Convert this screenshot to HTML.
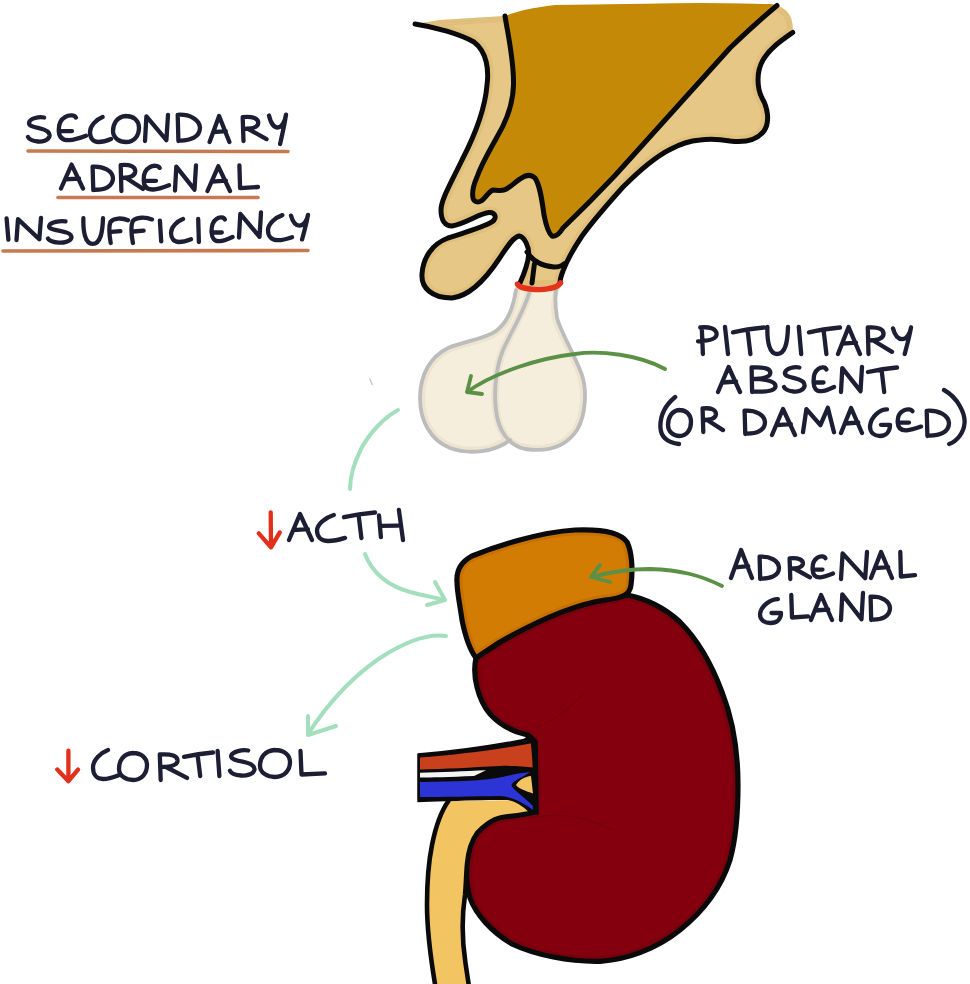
<!DOCTYPE html>
<html><head><meta charset="utf-8"><style>
html,body{margin:0;padding:0;background:#fff;width:970px;height:984px;overflow:hidden}
svg{display:block}
</style></head><body>
<svg width="970" height="984" viewBox="0 0 970 984" fill="none" stroke-linecap="round" stroke-linejoin="round">
<!-- underlines -->
<g stroke="#c67a52" stroke-width="3.6">
<path d="M28 151 L288 151.5"/>
<path d="M58 197.5 L258 197.5"/>
<path d="M3 251 L308 250.5"/>
</g>

<!-- hypothalamus tan -->
<clipPath id="ct"><path d="M415 24 L440 20 L505 16 L555 6 L700 3 L770 4 C780 5 788 10 791 18 C793 24 793 30 792.7 32.5 C782 40 770 48 763 60 C756 72 757 88 762 98 C768 108 770 122 764 131 C757 140 745 143 730 141 C718 139 708 139 700 140 C688 141 680 144 670 149.5 C655 157 640 170 623 187 C605 207 590 225 582 236 C574 248 567 260 563 271 C561 276 560 280 560 286 L519 286 L520 283 C524 274 528 265 528.8 254 C528.8 247 525 237 519 236 C513 237 507 247 499 259 C485 280 470 296 452 298 C432 298 421 288 422 274 C423 258 432 244 448 237 C462 233.5 479 228.5 490 223 C498 219 496 212 489 212.5 C480 213 465 224 452 226 C445 226 441 220 441 210 C441 200 450 185 462 160 C475 135 485 110 487 85 C489 70 487 52 474 42 C460 34 435 27 415 24 Z"/></clipPath>
<path fill="#e6c786" d="M415 24 L440 20 L505 16 L555 6 L700 3 L770 4 C780 5 788 10 791 18 C793 24 793 30 792.7 32.5 C782 40 770 48 763 60 C756 72 757 88 762 98 C768 108 770 122 764 131 C757 140 745 143 730 141 C718 139 708 139 700 140 C688 141 680 144 670 149.5 C655 157 640 170 623 187 C605 207 590 225 582 236 C574 248 567 260 563 271 C561 276 560 280 560 286 L519 286 L520 283 C524 274 528 265 528.8 254 C528.8 247 525 237 519 236 C513 237 507 247 499 259 C485 280 470 296 452 298 C432 298 421 288 422 274 C423 258 432 244 448 237 C462 233.5 479 228.5 490 223 C498 219 496 212 489 212.5 C480 213 465 224 452 226 C445 226 441 220 441 210 C441 200 450 185 462 160 C475 135 485 110 487 85 C489 70 487 52 474 42 C460 34 435 27 415 24 Z"/>
<path clip-path="url(#ct)" fill="none" stroke="#d9b56e" stroke-width="12" opacity="0.45" d="M415 24 L440 20 L505 16 L555 6 L700 3 L770 4 C780 5 788 10 791 18 C793 24 793 30 792.7 32.5 C782 40 770 48 763 60 C756 72 757 88 762 98 C768 108 770 122 764 131 C757 140 745 143 730 141 C718 139 708 139 700 140 C688 141 680 144 670 149.5 C655 157 640 170 623 187 C605 207 590 225 582 236 C574 248 567 260 563 271 C561 276 560 280 560 286 L519 286 L520 283 C524 274 528 265 528.8 254 C528.8 247 525 237 519 236 C513 237 507 247 499 259 C485 280 470 296 452 298 C432 298 421 288 422 274 C423 258 432 244 448 237 C462 233.5 479 228.5 490 223 C498 219 496 212 489 212.5 C480 213 465 224 452 226 C445 226 441 220 441 210 C441 200 450 185 462 160 C475 135 485 110 487 85 C489 70 487 52 474 42 C460 34 435 27 415 24 Z"/>
<path fill="#c48906" d="M505 16 C508 35 514 60 513.5 85 C513 105 506 122 497 137 C490 150 482 163 477 177 C473 186 472 193 473 198 C474 202 478 203 481 201 C485 199 489 191 493 190 C496 190 500 191 504 190 C510 188 515 182 520 179 C524 176 530 173 535 178 C540 185 542 200 544 215 C546 225 548 233 552 236 C556 237 560 233 563 228 Q590 202 615 175.5 L730 48 Q755 24 777 5.5 L770 4 L700 3 L555 5 C530 8 515 12 505 16 Z"/>
<g stroke="#0a0a0a" stroke-width="5">
<path d="M415 24 C435 27 460 34 474 42 C487 52 489 70 487 85 C485 110 475 135 462 160 C450 185 441 200 441 210 C441 220 445 226 452 226 C465 224 480 213 489 212.5 C496 212 498 219 490 223 C479 228.5 462 233.5 448 238 C432 244 423 258 422 274 C421 288 432 298 452 298 C470 296 485 280 499 259 C507 247 513 237 519 236 C525 237 528.8 247 528.8 254 C528 265 524 274 520 283"/>
<path d="M792.7 32.5 C782 40 770 48 763 60 C756 72 757 88 762 98 C768 108 770 122 764 131 C757 140 745 143 730 141 C718 139 708 139 700 140 C688 141 680 144 670 149.5 C655 157 640 170 623 187 C605 207 590 225 582 236 C574 248 567 260 563 271 C561 276 560 280 560 283"/>
<path d="M505 16 C508 35 514 60 513.5 85 C513 105 506 122 497 137 C490 150 482 163 477 177 C473 186 472 193 473 198 C474 202 478 203 481 201 C485 199 489 191 493 190 C496 190 500 191 504 190 C510 188 515 182 520 179 C524 176 530 173 535 178 C540 185 542 200 544 215 C546 225 548 233 552 236 C556 237 560 233 563 228 Q590 202 615 175.5 L730 48 Q755 24 777 5.5"/>
<path d="M527 252 C532 260 540 266 554 267 C558 267 562 266 564 264"/>
<path d="M534.4 264 L532 283"/>
</g>


<!-- pituitary -->
<clipPath id="cp"><path d="M516 286 L561 286 C556 297 555 305 557 318 C562 335 575 355 582 375 C587 390 586 415 577 430 C565 448 545 452 525 449 C515 448 510 444 507 441 C495 452 470 455 450 448 C430 440 420 420 420 398 C420 375 430 357 448 348 C465 341 485 339 496 331 C508 322 513 308 516 286 Z"/></clipPath>
<path fill="#f5eedd" d="M516 286 L561 286 C556 297 555 305 557 318 C562 335 575 355 582 375 C587 390 586 415 577 430 C565 448 545 452 525 449 C515 448 510 444 507 441 C495 452 470 455 450 448 C430 440 420 420 420 398 C420 375 430 357 448 348 C465 341 485 339 496 331 C508 322 513 308 516 286 Z"/>
<path clip-path="url(#cp)" fill="none" stroke="#ebe1cc" stroke-width="10" opacity="0.8" d="M516 286 L561 286 C556 297 555 305 557 318 C562 335 575 355 582 375 C587 390 586 415 577 430 C565 448 545 452 525 449 C515 448 510 444 507 441 C495 452 470 455 450 448 C430 440 420 420 420 398 C420 375 430 357 448 348 C465 341 485 339 496 331 C508 322 513 308 516 286 Z"/>
<path clip-path="url(#cp)" fill="none" stroke="#ebe1cc" stroke-width="8" opacity="0.8" d="M530 290 C525 310 512 330 503 350 C495 370 494 395 496 410 C498 430 508 445 525 449"/>
<g fill="none" stroke="#bcbcbc" stroke-width="3.8">
<path d="M516 290 C513 308 508 322 496 331 C485 339 465 341 448 348 C430 357 420 375 420 398 C420 420 430 440 450 448 C470 455 495 452 510 440"/>
<path d="M530 290 C525 310 512 330 503 350 C495 370 494 395 496 410 C498 430 508 445 525 449 C545 452 565 448 577 430 C586 415 587 390 582 375 C575 355 562 335 557 318 C555 305 555 297 556 290"/>
</g>
<path d="M517.5 284 C519 288 530 289.5 540 289.5 C550 289 557 288 560.5 283" stroke="#e5321b" stroke-width="5.5"/>
<g stroke="#a3dfbd" stroke-width="4">
<path d="M398 410 C385 417 370 432 361 449 C354 463 350 478 350 489"/>
<path d="M365 554 C372 572 385 585 410 592 C425 596 437 598 445 600 M435 582 L445 600 L427 605"/>
<path d="M446 636 C425 633 400 645 380 658 C355 675 330 700 308 734 M308 716 L308 735 L336 726"/>
</g>
<path d="M369.8 379 L372.3 384.5" stroke="#c4c4c4" stroke-width="1.3"/>
<!-- red arrows -->
<g stroke="#e2301b" stroke-width="4.3">
<path d="M270.7 512.3 L271 547.3 M258.8 533.3 L271 547.3 L279.8 532.4"/>
<path d="M68.4 750.7 L68.4 781.2 M57.3 769.6 L68.4 781.2 L78 769.6"/>
</g>

<!-- kidney -->
<clipPath id="ck"><path d="M476 658 C472 675 478 700 490 714 C500 725 512 731 524 734 C529 735 532 737 533 741 C535 760 536 790 535 812 C528 814 510 816 501.6 817.2 C492 819 482 827 477 833 C472 840 468 852 467 864 C466 875 467 888 470 898 C476 915 492 932 512 944 C535 955 570 962 600 961.3 C625 960 655 950 680 930 C705 910 722 885 730 860 C737 835 738 810 738 785 C738 755 733 720 722 692 C712 665 698 640 680 622 C665 608 645 598 627 595 L605 600 C570 605 530 625 500 642 C488 650 480 655 476 658 Z"/></clipPath>
<path fill="#85000f" d="M476 658 C472 675 478 700 490 714 C500 725 512 731 524 734 C529 735 532 737 533 741 C535 760 536 790 535 812 C528 814 510 816 501.6 817.2 C492 819 482 827 477 833 C472 840 468 852 467 864 C466 875 467 888 470 898 C476 915 492 932 512 944 C535 955 570 962 600 961.3 C625 960 655 950 680 930 C705 910 722 885 730 860 C737 835 738 810 738 785 C738 755 733 720 722 692 C712 665 698 640 680 622 C665 608 645 598 627 595 L605 600 C570 605 530 625 500 642 C488 650 480 655 476 658 Z"/>
<path clip-path="url(#ck)" fill="none" stroke="#74000d" stroke-width="11" opacity="0.8" d="M476 658 C472 675 478 700 490 714 C500 725 512 731 524 734 C529 735 532 737 533 741 C535 760 536 790 535 812 C528 814 510 816 501.6 817.2 C492 819 482 827 477 833 C472 840 468 852 467 864 C466 875 467 888 470 898 C476 915 492 932 512 944 C535 955 570 962 600 961.3 C625 960 655 950 680 930 C705 910 722 885 730 860 C737 835 738 810 738 785 C738 755 733 720 722 692 C712 665 698 640 680 622 C665 608 645 598 627 595 L605 600 C570 605 530 625 500 642 C488 650 480 655 476 658 Z"/>
<path clip-path="url(#ck)" fill="none" stroke="#85000f" stroke-width="20" opacity="0.0" d="M476 658 C472 675 478 700 490 714 C500 725 512 731 524 734 C529 735 532 737 533 741 C535 760 536 790 535 812 C528 814 510 816 501.6 817.2 C492 819 482 827 477 833 C472 840 468 852 467 864 C466 875 467 888 470 898 C476 915 492 932 512 944 C535 955 570 962 600 961.3 C625 960 655 950 680 930 C705 910 722 885 730 860 C737 835 738 810 738 785 C738 755 733 720 722 692 C712 665 698 640 680 622 C665 608 645 598 627 595 L605 600 C570 605 530 625 500 642 C488 650 480 655 476 658 Z"/>
<path fill="none" stroke="#0a0a0a" stroke-width="5.2" d="M476 658 C472 675 478 700 490 714 C500 725 512 731 524 734 C529 735 532 737 533 741 C535 760 536 790 535 812 C528 814 510 816 501.6 817.2 C492 819 482 827 477 833 C472 840 468 852 467 864 C466 875 467 888 470 898 C476 915 492 932 512 944 C535 955 570 962 600 961.3 C625 960 655 950 680 930 C705 910 722 885 730 860 C737 835 738 810 738 785 C738 755 733 720 722 692 C712 665 698 640 680 622 C665 608 645 598 627 595 L605 600 C570 605 530 625 500 642 C488 650 480 655 476 658 Z"/>
<!-- adrenal -->
<clipPath id="ca"><path d="M457 582 C456 570 461 562 472 556 C497 546 540 532 575 530 C600 529 620 532 627 542 C632 552 633 570 631 585 C630 595 622 598 605 600 C570 605 530 625 500 642 C488 650 480 655 476 658 C470 650 465 635 462 620 C460 605 457 592 457 582 Z"/></clipPath>
<path fill="#d37c03" d="M457 582 C456 570 461 562 472 556 C497 546 540 532 575 530 C600 529 620 532 627 542 C632 552 633 570 631 585 C630 595 622 598 605 600 C570 605 530 625 500 642 C488 650 480 655 476 658 C470 650 465 635 462 620 C460 605 457 592 457 582 Z"/>
<path clip-path="url(#ca)" fill="none" stroke="#c46f00" stroke-width="11" opacity="0.8" d="M457 582 C456 570 461 562 472 556 C497 546 540 532 575 530 C600 529 620 532 627 542 C632 552 633 570 631 585 C630 595 622 598 605 600 C570 605 530 625 500 642 C488 650 480 655 476 658 C470 650 465 635 462 620 C460 605 457 592 457 582 Z"/>
<path fill="none" stroke="#0a0a0a" stroke-width="5.2" d="M457 582 C456 570 461 562 472 556 C497 546 540 532 575 530 C600 529 620 532 627 542 C632 552 633 570 631 585 C630 595 622 598 605 600 C570 605 530 625 500 642 C488 650 480 655 476 658 C470 650 465 635 462 620 C460 605 457 592 457 582 Z"/>
<!-- ureter -->
<path fill="#f2c462" d="M448.4 801 C442 810 436 825 432 845 C428 865 427 885 427 905 C427 930 430 955 436 990 L470 990 L465.4 962.5 C462 940 462 915 465 895 C466 885 466 876 467 864 C468 852 472 840 477 833 C482 827 492 819 501.6 817.2 C505 816.5 512 816 520 814.7 L535 812 L520 800 Z"/>
<g stroke="#0a0a0a" stroke-width="4.6">
<path d="M448.4 801 C442 810 436 825 432 845 C428 865 427 885 427 905 C427 930 430 955 436 990"/>
<path d="M535 812 C528 814 512 816 501.6 817.2 C492 819 482 827 477 833 C472 840 468 852 467 864 C466 876 466 885 465 895 C462 915 462 940 465.4 962.5 L469.5 990"/>
</g>
<!-- vessels -->
<path fill="#0a0a0a" stroke="#0a0a0a" stroke-width="1.5" d="M418 754 C450 751.5 490 746 524 739.5 L530 735 L537 741 L538 814 L531 813 C524 806 515 799.5 505 799 C480 799 450 800.5 418 801.5 Z"/>
<path fill="#c8401c" d="M420 757.5 C450 755.5 490 750.5 522 745 L533 743 L533 767.5 C525 766.5 510 765.5 500 766 C470 767.5 445 769 420 769.5 Z"/>
<path fill="#f4f4f4" d="M420 772.8 C440 772.3 465 771.3 486 770.3 L474 776 C450 777 430 777.5 420 777.5 Z"/>
<path fill="#2c34d6" d="M420 782 C450 781.5 480 781 497 778 C508 776 518 773 530 772 L524 776 C518 779 511.5 782 511.5 786 C514 790 524 797 533 806 L533 810 C524 803 512 796.5 500 796 C470 796.5 445 797 420 797 Z"/>
<path fill="#f2c462" d="M516 785 C519 780 525 776.5 531 776 L533 793.5 C526 791 519 789 516 785 Z"/>
<path d="M533 741 C535 760 536 790 535 812" stroke="#0a0a0a" stroke-width="4.6"/>
<path fill="none" stroke="#6a000a" stroke-width="1.5" opacity="0.6" d="M538 817 C557 813 585 816 612 830"/>
<path fill="none" stroke="#6a000a" stroke-width="1.5" opacity="0.6" d="M538 727 C550 722 570 710 583 694"/>

<!-- green arrows -->
<g stroke="#5b9147" stroke-width="3.8">
<path d="M665 369 C640 355 600 350 575 354 C540 358 495 372 467 392 M471 376 L467 392 L482 394"/>
<path d="M722 586 C700 575 680 570 650 569 C630 569 610 572 592 577 M600 565 L591 577 L610 582"/>
</g>

<!-- text -->
<g stroke-linecap="round" stroke-linejoin="round" fill="none">
<path d="M44.1 117.5C39.0 116.5 30.2 118.2 29.1 122.5C28.4 125.8 33.5 127.0 39.0 128.2C46.7 130.0 50.0 132.0 49.6 135.8C48.9 140.8 41.2 142.0 37.9 141.5C33.5 141.0 29.1 139.5 28.0 137.0 M75.9 117.6C74.8 115.0 69.2 114.5 65.0 117.1C59.4 120.2 58.6 126.7 58.8 131.1L72.0 131.1 M58.8 131.1C59.1 137.1 62.2 140.5 69.2 140.2C74.8 140.0 80.4 137.9 86.0 135.8 M102.6 117.0C96.3 119.5 90.0 125.8 90.0 132.0C90.0 138.2 93.2 142.0 98.4 142.0C102.6 142.0 106.8 140.8 111.0 139.0 M126.0 116.0C116.9 116.5 113.0 123.8 113.0 131.1C113.0 138.1 119.5 142.0 126.0 142.0C134.3 142.0 139.0 135.5 139.0 127.7C139.0 120.7 133.8 116.0 126.0 116.0 M145.0 141.0L146.4 116.3L166.4 140.2L168.0 115.0 M177.7 114.8L178.4 141.0 M177.7 114.8C189.7 114.0 199.3 119.4 200.0 127.5C200.0 136.9 190.8 141.0 178.4 140.5 M209.6 142.0L219.1 116.0L229.4 142.0 M213.6 132.1L225.8 131.1 M242.7 117.7L243.5 141.0 M242.7 117.2C253.0 116.2 258.7 118.6 258.2 123.3C257.7 127.6 250.6 128.8 243.5 128.8 M248.1 128.8L266.5 139.1 M269.0 115.5C270.7 123.0 274.1 127.5 277.5 127.5C281.8 127.5 285.1 121.5 286.0 114.6 M286.0 114.6C284.3 126.0 281.8 136.5 280.1 144.0" stroke="#1c1e33" stroke-width="4.3"/>
<path d="M61.0 188.5L71.6 164.6L83.0 188.5 M65.4 179.4L79.0 178.5 M92.6 166.7L93.3 190.2 M92.6 166.7C103.5 166.0 112.4 170.8 113.0 178.1C113.0 186.6 104.6 190.2 93.3 189.7 M120.7 165.7L121.4 191.0 M120.7 165.1C130.3 164.1 135.6 166.7 135.2 171.7C134.7 176.5 128.1 177.8 121.4 177.8 M125.8 177.8L143.0 188.9 M159.6 167.9C158.6 165.4 153.4 164.9 149.5 167.4C144.3 170.4 143.5 176.6 143.8 180.8L156.0 180.8 M143.8 180.8C144.0 186.5 146.9 189.7 153.4 189.5C158.6 189.2 163.8 187.2 169.0 185.2 M175.0 190.5L176.3 166.7L194.5 189.7L196.0 165.4 M207.5 191.0L218.3 166.3L230.0 191.0 M212.0 181.6L225.9 180.6 M239.4 165.4L240.1 188.1L258.0 187.0" stroke="#1c1e33" stroke-width="4.3"/>
<path d="M6.6 218.5L8.4 239.7 M16.5 240.0L18.0 219.1L39.3 239.3L41.0 218.0 M65.5 221.4C60.0 220.6 50.4 222.1 49.2 225.8C48.5 228.7 54.0 229.8 60.0 230.9C68.4 232.4 72.0 234.2 71.5 237.5C70.8 241.9 62.4 243.0 58.8 242.6C54.0 242.1 49.2 240.8 48.0 238.6 M83.4 218.2C83.0 231.0 85.0 243.8 92.6 243.8C101.0 243.8 102.6 231.0 103.0 218.2 M128.0 220.2C122.3 217.7 113.8 217.7 110.5 221.9C109.0 225.6 109.0 233.1 110.7 243.0 M111.3 231.8L120.4 231.1 M152.0 219.4C145.7 216.9 136.2 216.9 132.7 221.2C131.0 225.1 131.0 232.8 132.9 243.0 M133.5 231.5L143.6 230.7 M159.9 220.7L161.2 241.3 M183.0 219.0C177.0 221.3 171.0 227.1 171.0 232.8C171.0 238.6 174.0 242.0 179.0 242.0C183.0 242.0 187.0 240.8 191.0 239.2 M198.2 219.0L198.9 242.0 M224.8 219.5C223.9 217.0 219.6 216.5 216.4 219.0C212.1 222.0 211.4 228.2 211.6 232.5L221.8 232.5 M211.6 232.5C211.9 238.2 214.2 241.5 219.6 241.2C223.9 241.0 228.2 239.0 232.5 237.0 M239.0 237.5L240.3 213.8L259.5 236.8L261.0 212.5 M282.4 215.1C275.2 217.6 268.0 223.9 268.0 230.2C268.0 236.4 271.6 240.2 277.6 240.2C282.4 240.2 287.2 238.9 292.0 237.2 M291.0 215.6C292.7 221.8 296.1 225.6 299.5 225.6C303.8 225.6 307.1 220.6 308.0 214.8 M308.0 214.8C306.3 224.3 303.8 233.1 302.1 239.4" stroke="#1c1e33" stroke-width="4.3"/>
<path d="M701.8 328.4L702.9 354.0 M700.3 327.5C708.5 326.5 716.6 328.4 716.6 334.3C716.6 339.7 707.5 341.0 698.0 341.3 M725.0 327.0L728.0 354.0 M733.0 332.4C742.3 330.2 754.7 328.4 764.0 327.5 M747.6 330.2L750.4 354.0 M767.4 327.0C767.0 340.5 769.1 354.0 777.1 354.0C785.9 354.0 787.6 340.5 788.0 327.0 M798.8 327.0L801.2 354.0 M809.0 332.4C818.3 330.2 830.7 328.4 840.0 327.5 M823.6 330.2L826.4 354.0 M838.0 354.0L848.6 327.0L860.0 354.0 M842.4 343.7L856.0 342.7 M867.8 328.1L868.5 354.0 M867.8 327.5C878.2 326.5 884.0 329.2 883.5 334.3C883.0 339.1 875.8 340.5 868.5 340.5 M873.2 340.5L892.0 351.8 M893.0 328.4C894.8 335.1 898.4 339.1 902.0 339.1C906.5 339.1 910.1 333.8 911.0 327.5 M911.0 327.5C909.2 337.8 906.5 347.2 904.7 354.0" stroke="#1c1e33" stroke-width="4.3"/>
<path d="M718.0 392.0L728.6 367.0L740.0 392.0 M722.4 382.5L736.0 381.5 M751.6 367.5L752.1 392.0 M751.6 367.5C764.3 366.5 770.8 369.0 770.3 373.2C769.8 377.5 760.4 378.8 752.1 379.0 M752.1 379.0C765.6 378.5 776.0 381.5 775.5 386.5C775.0 392.0 761.7 392.0 752.1 391.5 M799.3 367.5C794.5 366.5 786.1 368.2 785.0 372.5C784.4 375.8 789.2 377.0 794.5 378.2C801.9 380.0 805.0 382.0 804.6 385.8C804.0 390.8 796.6 392.0 793.5 391.5C789.2 391.0 785.0 389.5 784.0 387.0 M826.4 369.5C825.6 367.0 821.4 366.5 818.2 369.0C814.0 372.0 813.4 378.2 813.6 382.5L823.5 382.5 M813.6 382.5C813.8 388.2 816.1 391.5 821.4 391.2C825.6 391.0 829.8 389.0 834.0 387.0 M841.0 392.0L842.3 368.2L860.5 391.2L862.0 367.0 M868.0 372.0C876.7 370.0 888.3 368.2 897.0 367.5 M881.6 370.0L884.2 392.0" stroke="#1c1e33" stroke-width="4.3"/>
<path d="M675.2 397.0C663.8 406.4 660.0 418.1 660.4 427.6C661.0 436.9 667.6 442.6 679.0 444.0 M679.5 410.0C671.5 410.5 668.0 417.8 668.0 425.1C668.0 432.1 673.8 436.0 679.5 436.0C686.9 436.0 691.0 429.5 691.0 421.7C691.0 414.7 686.4 410.0 679.5 410.0 M702.6 409.0L703.3 432.0 M702.6 408.5C711.5 407.5 716.3 409.9 715.9 414.5C715.4 418.8 709.4 420.0 703.3 420.0 M707.2 420.0L723.0 430.1 M744.6 410.7L745.3 434.0 M744.6 410.7C755.5 410.0 764.4 414.8 765.0 422.0C765.0 430.4 756.6 434.0 745.3 433.5 M772.0 435.0L783.0 409.0L795.0 435.0 M776.6 425.1L790.9 424.1 M803.0 432.2L806.4 409.1L820.4 425.2L827.8 407.8L834.0 432.2 M841.0 433.0L851.1 408.0L862.0 433.0 M845.2 423.5L858.2 422.5 M887.0 409.4C880.0 409.4 871.0 416.4 870.0 426.2C870.0 433.2 875.0 436.0 880.0 436.0C886.0 436.0 890.0 431.8 890.0 424.8L881.0 424.8 M912.4 411.2C911.4 409.0 906.6 408.6 903.0 410.8C898.2 413.4 897.5 418.9 897.7 422.6L909.0 422.6 M897.7 422.6C898.0 427.7 900.6 430.6 906.6 430.3C911.4 430.1 916.2 428.4 921.0 426.6 M926.7 410.8L927.4 436.0 M926.7 410.8C938.6 410.0 948.3 415.2 949.0 423.0C949.0 432.1 939.8 436.0 927.4 435.5 M944.0 390.0C958.7 398.1 965.0 414.3 964.6 422.4C964.0 433.2 956.6 441.3 949.2 444.0" stroke="#1c1e33" stroke-width="4.3"/>
<path d="M289.0 540.0L300.0 514.0L312.0 540.0 M293.6 530.1L307.9 529.1 M333.8 515.0C325.4 517.6 317.0 524.1 317.0 530.6C317.0 537.1 321.2 541.0 328.2 541.0C333.8 541.0 339.4 539.7 345.0 537.9 M344.0 517.2C353.3 515.1 365.7 513.3 375.0 512.5 M358.6 515.1L361.4 538.0 M379.0 515.4L380.9 537.0 M380.9 525.9L398.2 525.6 M398.9 510.0L403.0 540.0" stroke="#1c1e33" stroke-width="4.3"/>
<path d="M731.0 578.0L741.1 550.0L752.0 578.0 M735.2 567.4L748.2 566.2 M759.6 556.7L760.2 579.0 M759.6 556.7C770.0 556.0 778.4 560.6 779.0 567.5C779.0 575.5 771.0 579.0 760.2 578.5 M789.6 558.8L790.3 579.0 M789.6 558.4C798.5 557.6 803.3 559.7 802.9 563.7C802.4 567.5 796.4 568.5 790.3 568.5 M794.2 568.5L810.0 577.3 M825.4 558.2C824.6 556.0 820.4 555.6 817.2 557.8C813.0 560.4 812.4 565.9 812.6 569.6L822.5 569.6 M812.6 569.6C812.8 574.7 815.1 577.6 820.4 577.3C824.6 577.1 828.8 575.4 833.0 573.6 M841.0 579.0L842.6 553.4L865.2 578.2L867.0 552.0 M871.0 578.0L881.1 552.0L892.0 578.0 M875.2 568.1L888.2 567.1 M900.3 552.0L900.9 576.5L915.0 575.2" stroke="#1c1e33" stroke-width="4.3"/>
<path d="M777.9 599.2C770.5 599.2 761.0 605.5 760.0 614.2C760.0 620.5 765.2 623.0 770.5 623.0C776.8 623.0 781.0 619.2 781.0 613.0L771.5 613.0 M791.3 595.0L792.0 617.5L808.0 616.4 M811.0 620.0L821.1 595.0L832.0 620.0 M815.2 610.5L828.2 609.5 M841.0 620.0L842.3 594.4L861.5 619.2L863.0 593.0 M870.6 596.7L871.2 620.0 M870.6 596.7C881.0 596.0 889.4 600.8 890.0 608.0C890.0 616.4 882.0 620.0 871.2 619.5" stroke="#1c1e33" stroke-width="4.3"/>
<path d="M108.0 750.0C100.5 752.9 93.0 760.1 93.0 767.4C93.0 774.6 96.8 779.0 103.0 779.0C108.0 779.0 113.0 777.5 118.0 775.5 M133.0 753.0C123.2 753.5 119.0 761.1 119.0 768.7C119.0 776.0 126.0 780.0 133.0 780.0C142.0 780.0 147.0 773.2 147.0 765.1C147.0 757.9 141.4 753.0 133.0 753.0 M159.8 755.0L160.7 780.0 M159.8 754.5C171.6 753.5 178.0 756.1 177.5 761.0C176.9 765.7 168.8 767.0 160.7 767.0 M166.0 767.0L187.0 777.9 M184.0 756.8C192.7 754.9 204.3 753.2 213.0 752.5 M197.6 754.9L200.2 776.0 M217.6 751.0L219.4 776.0 M248.2 750.5C242.5 749.5 232.5 751.3 231.2 755.7C230.5 759.1 236.2 760.4 242.5 761.7C251.2 763.5 255.0 765.6 254.5 769.5C253.8 774.7 245.0 776.0 241.2 775.5C236.2 775.0 231.2 773.4 230.0 770.8 M275.0 750.0C264.5 750.5 260.0 758.1 260.0 765.7C260.0 773.0 267.5 777.0 275.0 777.0C284.6 777.0 290.0 770.2 290.0 762.1C290.0 754.9 284.0 750.0 275.0 750.0 M300.5 751.0L301.5 774.5L325.0 773.3" stroke="#1c1e33" stroke-width="4.3"/>
</g>
</svg>
</body></html>
